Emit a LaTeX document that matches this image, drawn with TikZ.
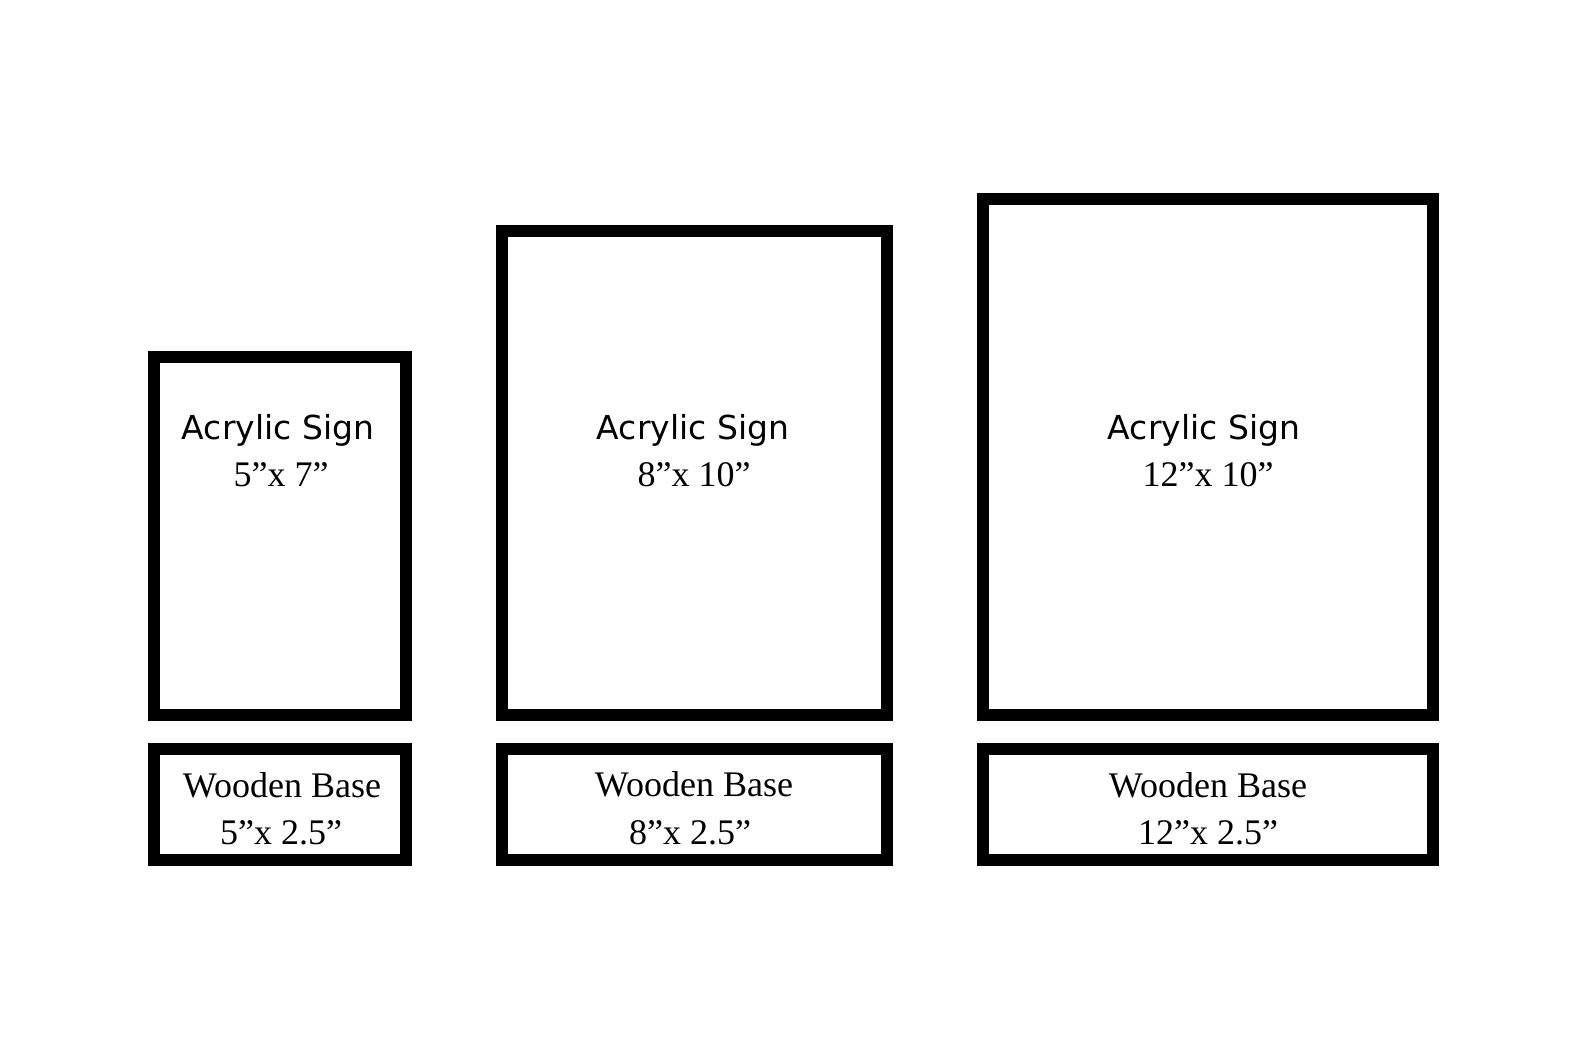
\documentclass[tikz,border=0pt]{standalone}
\usepackage{fontspec}
\setmainfont{Liberation Serif}
\newfontfamily\signfont{DejaVu Sans}
\usetikzlibrary{positioning}

\begin{document}
\begin{tikzpicture}[x=0.5pt,y=0.5pt]
  \tikzstyle{panel}=[draw=black,line width=6pt,inner sep=0pt]
  \tikzstyle{signtext}=[anchor=base,inner sep=0pt,font=\signfont\fontsize{16.5}{20}\selectfont]
  \tikzstyle{sizetext}=[anchor=base,inner sep=0pt,font=\fontsize{18}{22}\selectfont]

  \useasboundingbox (0,0) rectangle (1588,1059);

  % acrylic signs
  \node[panel,minimum width=126pt,minimum height=179pt] (sign1) at (280,523)    {};
  \node[panel,minimum width=192.5pt,minimum height=242pt] (sign2) at (694.5,586) {};
  \node[panel,minimum width=225pt,minimum height=258pt] (sign3) at (1208,602)  {};

  % wooden bases
  \node[panel,minimum width=126pt,minimum height=55.5pt] (base1) at (280,254.5)    {};
  \node[panel,minimum width=192.5pt,minimum height=55.5pt] (base2) at (694.5,254.5) {};
  \node[panel,minimum width=225pt,minimum height=55.5pt] (base3) at (1208,254.5)  {};

  \node[signtext] (title1) at (278,619)  {Acrylic Sign};
  \node[signtext] (title2) at (693,619)  {Acrylic Sign};
  \node[signtext] (title3) at (1204,619) {Acrylic Sign};
  \node[sizetext] (size1)  at (281,572)  {5''x 7''};
  \node[sizetext] (size2)  at (694,572)  {8''x 10''};
  \node[sizetext] (size3)  at (1208,572) {12''x 10''};

  \node[sizetext] (wood1)  at (282,261)  {Wooden Base};
  \node[sizetext] (wood2)  at (694,262)  {Wooden Base};
  \node[sizetext] (wood3)  at (1208,261) {Wooden Base};
  \node[sizetext] (bsize1) at (281,214)  {5''x 2.5''};
  \node[sizetext] (bsize2) at (690,214)  {8''x 2.5''};
  \node[sizetext] (bsize3) at (1208,214) {12''x 2.5''};
\end{tikzpicture}
\end{document}
